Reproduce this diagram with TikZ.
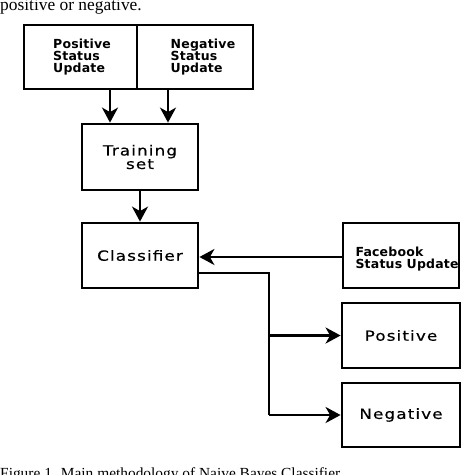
\documentclass[tikz,border=0pt]{standalone}
\usepackage{fontspec}
\setmainfont{Liberation Serif}
\newfontfamily\boxfont[LetterSpace=8, FakeStretch=1.2, FakeBold=0.4]{DejaVu Sans}
\newfontfamily\boxboldfont[LetterSpace=1.5]{DejaVu Sans Bold}
\usetikzlibrary{arrows.meta}
\begin{document}
\begin{tikzpicture}[x=1pt,y=-1pt,
  box/.style={draw=black, line width=2.8pt, fill=white, inner sep=0pt},
  normtext/.style={font=\boxfont\fontsize{14}{13.5}\selectfont, align=center},
  boldtext/.style={font=\boxboldfont\fontsize{12.5}{12.3}\selectfont, align=left},
  conn/.style={line width=2.6pt, -{Stealth[length=15pt,width=16pt,inset=4.5pt]}},
  plain/.style={line width=2.6pt}]
\useasboundingbox (0,0) rectangle (474,475);
\fill[white] (0,0) rectangle (474,475);
% clipped texts
\node[anchor=base west, inner sep=0pt, font=\fontsize{17.4}{20}\selectfont] (toptext) at (0,10.5) {positive or negative.};
\node[anchor=base west, inner sep=0pt, font=\fontsize{15.4}{18}\selectfont] (caption) at (0,478.5) {Figure 1. Main methodology of Naive Bayes Classifier};
% boxes
\node[box, minimum width=113pt, minimum height=64pt] (psu) at (80.5,57) {};
\node[boldtext] (psut) at (82,57) {Positive\\Status\\Update};
\node[box, minimum width=116pt, minimum height=64pt] (nsu) at (195,57) {};
\node[boldtext] (nsut) at (203,57) {Negative\\Status\\Update};
\node[box, minimum width=116pt, minimum height=66pt] (train) at (140,157) {};
\node[normtext] (traint) at (140,157) {Training\\set};
\node[box, minimum width=116pt, minimum height=65pt, normtext] (cls) at (140,255.5) {Classifier};
\node[box, minimum width=116pt, minimum height=65pt] (fb) at (401,255.5) {};
\node[boldtext, anchor=west] (fbt) at (352,259) {Facebook\\Status Update};
\node[box, minimum width=118pt, minimum height=65pt, normtext] (pos) at (401,335.5) {Positive};
\node[box, minimum width=118pt, minimum height=64pt, normtext] (neg) at (401,415) {Negative};
% connectors
\coordinate (c1) at (110,0);
\coordinate (c2) at (168,0);
\draw[conn] (psu.south -| c1) -- (train.north -| c1);
\draw[conn] (nsu.south -| c2) -- (train.north -| c2);
\draw[conn] (train.south) -- (cls.north);
\coordinate (fy) at (0,257);
\draw[conn] (fb.west |- fy) -- (cls.east |- fy);
\coordinate (cy) at (0,273);
\coordinate (jx) at (269,0);
\coordinate (j1) at (jx |- cy);
\coordinate (j2) at (jx |- neg.west);
\draw[plain, line join=miter] (cls.east |- cy) -- (j1) -- (j2);
\draw[conn] (j2) -- (neg.west);
\coordinate (j3) at (jx |- pos.west);
\draw[conn] (j3) -- (pos.west);
\end{tikzpicture}
\end{document}
